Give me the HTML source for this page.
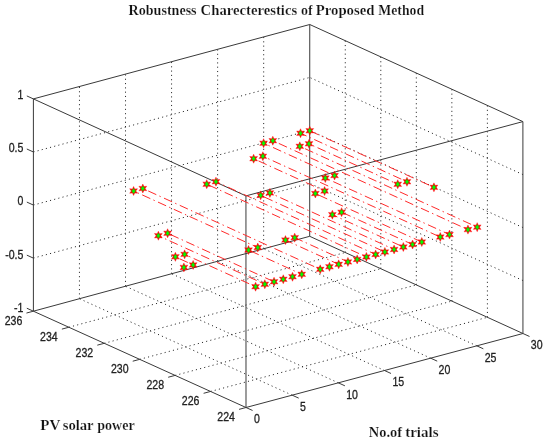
<!DOCTYPE html>
<html><head><meta charset="utf-8"><title>Robustness Charecterestics of Proposed Method</title><style>
html,body{margin:0;padding:0;background:#fff;}
svg{display:block;}
.g{stroke:#2a2a2a;stroke-width:1;stroke-dasharray:1.1 3.2;fill:none;}
.b{stroke:#3a3a3a;stroke-width:1;fill:none;}
.d{stroke:#ff2a2a;stroke-width:1;stroke-dasharray:8.9 3.4 1.4 3.647;fill:none;}
.m{fill:#ff0000;stroke:#ff1010;stroke-width:0.4;}
.mc{fill:#00ff00;stroke:#40a000;stroke-width:0.6;stroke-linejoin:round;}
.t{font-family:"Liberation Sans",Arial,sans-serif;font-size:12px;fill:#222;stroke:#222;stroke-width:0.3;}
.h{font-family:"Liberation Serif","Times New Roman",serif;font-weight:bold;fill:#111;stroke:#fff;stroke-width:0.2;}
</style></head><body>
<svg width="550" height="445" viewBox="0 0 550 445">
<rect width="550" height="445" fill="#fff"/>
<line x1="292.16" y1="395.17" x2="79.45" y2="298.72" class="g"/>
<line x1="338.32" y1="382.83" x2="125.5" y2="286.23" class="g"/>
<line x1="384.48" y1="370.5" x2="171.55" y2="273.75" class="g"/>
<line x1="430.63" y1="358.17" x2="217.6" y2="261.27" class="g"/>
<line x1="476.79" y1="345.83" x2="263.65" y2="248.78" class="g"/>
<line x1="210.57" y1="391.45" x2="487.41" y2="317.3" class="g"/>
<line x1="175.13" y1="375.4" x2="451.87" y2="301.1" class="g"/>
<line x1="139.7" y1="359.35" x2="416.33" y2="284.9" class="g"/>
<line x1="104.27" y1="343.3" x2="380.78" y2="268.7" class="g"/>
<line x1="68.83" y1="327.25" x2="345.24" y2="252.5" class="g"/>
<line x1="79.45" y1="298.72" x2="79.46" y2="86.5" class="g"/>
<line x1="125.5" y1="286.23" x2="125.52" y2="74.1" class="g"/>
<line x1="171.55" y1="273.75" x2="171.58" y2="61.7" class="g"/>
<line x1="217.6" y1="261.27" x2="217.63" y2="49.3" class="g"/>
<line x1="263.65" y1="248.78" x2="263.69" y2="36.9" class="g"/>
<line x1="33.4" y1="258.12" x2="309.71" y2="183.35" class="g"/>
<line x1="33.4" y1="205.05" x2="309.73" y2="130.4" class="g"/>
<line x1="33.4" y1="151.97" x2="309.74" y2="77.45" class="g"/>
<line x1="487.41" y1="317.3" x2="487.38" y2="105.42" class="g"/>
<line x1="451.87" y1="301.1" x2="451.85" y2="89.23" class="g"/>
<line x1="416.33" y1="284.9" x2="416.32" y2="73.05" class="g"/>
<line x1="380.78" y1="268.7" x2="380.8" y2="56.87" class="g"/>
<line x1="345.24" y1="252.5" x2="345.27" y2="40.68" class="g"/>
<line x1="522.94" y1="280.52" x2="309.71" y2="183.35" class="g"/>
<line x1="522.92" y1="227.55" x2="309.73" y2="130.4" class="g"/>
<line x1="522.91" y1="174.57" x2="309.74" y2="77.45" class="g"/>
<line x1="33.4" y1="311.2" x2="33.4" y2="98.9" class="b"/>
<line x1="246" y1="407.5" x2="245.95" y2="195.9" class="b"/>
<line x1="522.95" y1="333.5" x2="522.9" y2="121.6" class="b"/>
<line x1="309.7" y1="236.3" x2="309.75" y2="24.5" class="b"/>
<line x1="33.4" y1="98.9" x2="245.95" y2="195.9" class="b"/>
<line x1="245.95" y1="195.9" x2="522.9" y2="121.6" class="b"/>
<line x1="522.9" y1="121.6" x2="309.75" y2="24.5" class="b"/>
<line x1="309.75" y1="24.5" x2="33.4" y2="98.9" class="b"/>
<line x1="33.4" y1="311.2" x2="246" y2="407.5" class="b"/>
<line x1="246" y1="407.5" x2="522.95" y2="333.5" class="b"/>
<line x1="522.95" y1="333.5" x2="309.7" y2="236.3" class="b"/>
<line x1="309.7" y1="236.3" x2="33.4" y2="311.2" class="b"/>
<line x1="33.4" y1="311.2" x2="26.84" y2="308.23" class="b"/>
<line x1="33.4" y1="258.12" x2="26.84" y2="255.15" class="b"/>
<line x1="33.4" y1="205.05" x2="26.84" y2="202.08" class="b"/>
<line x1="33.4" y1="151.97" x2="26.84" y2="149" class="b"/>
<line x1="33.4" y1="98.9" x2="26.84" y2="95.93" class="b"/>
<line x1="246" y1="407.5" x2="239.04" y2="409.36" class="b"/>
<line x1="210.57" y1="391.45" x2="203.61" y2="393.31" class="b"/>
<line x1="175.13" y1="375.4" x2="168.18" y2="377.26" class="b"/>
<line x1="139.7" y1="359.35" x2="132.74" y2="361.21" class="b"/>
<line x1="104.27" y1="343.3" x2="97.31" y2="345.16" class="b"/>
<line x1="68.83" y1="327.25" x2="61.88" y2="329.11" class="b"/>
<line x1="33.4" y1="311.2" x2="26.44" y2="313.06" class="b"/>
<line x1="246" y1="407.5" x2="252.56" y2="410.47" class="b"/>
<line x1="292.16" y1="395.17" x2="298.72" y2="398.14" class="b"/>
<line x1="338.32" y1="382.83" x2="344.88" y2="385.8" class="b"/>
<line x1="384.48" y1="370.5" x2="391.03" y2="373.47" class="b"/>
<line x1="430.63" y1="358.17" x2="437.19" y2="361.14" class="b"/>
<line x1="476.79" y1="345.83" x2="483.35" y2="348.8" class="b"/>
<line x1="522.95" y1="333.5" x2="529.51" y2="336.47" class="b"/>
<text x="23.4" y="311.6" class="t" text-anchor="end" textLength="9.39" lengthAdjust="spacingAndGlyphs">-1</text>
<text x="23.4" y="258.52" class="t" text-anchor="end" textLength="18.2" lengthAdjust="spacingAndGlyphs">-0.5</text>
<text x="23.4" y="205.45" class="t" text-anchor="end" textLength="5.87" lengthAdjust="spacingAndGlyphs">0</text>
<text x="23.4" y="152.38" class="t" text-anchor="end" textLength="14.68" lengthAdjust="spacingAndGlyphs">0.5</text>
<text x="23.4" y="99.3" class="t" text-anchor="end" textLength="5.87" lengthAdjust="spacingAndGlyphs">1</text>
<text x="226.1" y="421.1" class="t" text-anchor="middle" textLength="17.62" lengthAdjust="spacingAndGlyphs">224</text>
<text x="190.67" y="405.05" class="t" text-anchor="middle" textLength="17.62" lengthAdjust="spacingAndGlyphs">226</text>
<text x="155.23" y="389" class="t" text-anchor="middle" textLength="17.62" lengthAdjust="spacingAndGlyphs">228</text>
<text x="119.8" y="372.95" class="t" text-anchor="middle" textLength="17.62" lengthAdjust="spacingAndGlyphs">230</text>
<text x="84.37" y="356.9" class="t" text-anchor="middle" textLength="17.62" lengthAdjust="spacingAndGlyphs">232</text>
<text x="48.93" y="340.85" class="t" text-anchor="middle" textLength="17.62" lengthAdjust="spacingAndGlyphs">234</text>
<text x="13.5" y="324.8" class="t" text-anchor="middle" textLength="17.62" lengthAdjust="spacingAndGlyphs">236</text>
<text x="253.9" y="423.3" class="t" textLength="5.87" lengthAdjust="spacingAndGlyphs">0</text>
<text x="300.06" y="410.97" class="t" textLength="5.87" lengthAdjust="spacingAndGlyphs">5</text>
<text x="346.22" y="398.63" class="t" textLength="11.75" lengthAdjust="spacingAndGlyphs">10</text>
<text x="392.38" y="386.3" class="t" textLength="11.75" lengthAdjust="spacingAndGlyphs">15</text>
<text x="438.53" y="373.97" class="t" textLength="11.75" lengthAdjust="spacingAndGlyphs">20</text>
<text x="484.69" y="361.63" class="t" textLength="11.75" lengthAdjust="spacingAndGlyphs">25</text>
<text x="530.85" y="349.3" class="t" textLength="11.75" lengthAdjust="spacingAndGlyphs">30</text>
<line x1="175.39" y1="256.85" x2="193.13" y2="264.93" class="d" stroke-dashoffset="12.62"/>
<line x1="184.62" y1="254.37" x2="255.58" y2="286.7" class="d" stroke-dashoffset="7.4"/>
<line x1="158.38" y1="235.72" x2="264.82" y2="284.22" class="d" stroke-dashoffset="5.02"/>
<line x1="167.61" y1="233.24" x2="274.05" y2="281.74" class="d" stroke-dashoffset="14.18"/>
<line x1="248.53" y1="250.04" x2="301.75" y2="274.29" class="d" stroke-dashoffset="15.02"/>
<line x1="133.59" y1="190.98" x2="257.77" y2="247.56" class="d" stroke-dashoffset="7.87"/>
<line x1="142.82" y1="188.5" x2="320.22" y2="269.33" class="d" stroke-dashoffset="11.43"/>
<line x1="285.47" y1="240.11" x2="338.69" y2="264.36" class="d" stroke-dashoffset="1.15"/>
<line x1="294.7" y1="237.63" x2="347.92" y2="261.88" class="d" stroke-dashoffset="0.2"/>
<line x1="206.73" y1="184.17" x2="366.39" y2="256.92" class="d" stroke-dashoffset="15"/>
<line x1="215.96" y1="181.69" x2="375.62" y2="254.44" class="d" stroke-dashoffset="4.28"/>
<line x1="260.68" y1="195.37" x2="384.86" y2="251.95" class="d" stroke-dashoffset="13.22"/>
<line x1="269.91" y1="192.89" x2="394.09" y2="249.47" class="d" stroke-dashoffset="6.01"/>
<line x1="332.37" y1="214.66" x2="403.33" y2="246.99" class="d" stroke-dashoffset="3.42"/>
<line x1="341.6" y1="212.18" x2="412.56" y2="244.51" class="d" stroke-dashoffset="16.37"/>
<line x1="315.35" y1="193.53" x2="421.79" y2="242.03" class="d" stroke-dashoffset="13.24"/>
<line x1="253.63" y1="158.71" x2="324.59" y2="191.05" class="d" stroke-dashoffset="11.95"/>
<line x1="262.86" y1="156.23" x2="440.26" y2="237.06" class="d" stroke-dashoffset="6.45"/>
<line x1="325.32" y1="178" x2="449.5" y2="234.58" class="d" stroke-dashoffset="8.59"/>
<line x1="263.59" y1="143.18" x2="334.55" y2="175.52" class="d" stroke-dashoffset="6.98"/>
<line x1="272.82" y1="140.7" x2="467.96" y2="229.62" class="d" stroke-dashoffset="10.75"/>
<line x1="299.8" y1="146.3" x2="477.2" y2="227.13" class="d" stroke-dashoffset="11.51"/>
<line x1="309.03" y1="143.82" x2="397.73" y2="184.24" class="d" stroke-dashoffset="7.99"/>
<line x1="300.53" y1="133.26" x2="406.97" y2="181.75" class="d" stroke-dashoffset="2.31"/>
<line x1="309.76" y1="130.77" x2="433.94" y2="187.36" class="d" stroke-dashoffset="16.53"/>
<path d="M183.89,262.92 182.74,265.42 180,265.17 181.59,267.42 180,269.67 182.74,269.41 183.89,271.92 185.04,269.41 187.79,269.67 186.19,267.42 187.79,265.17 185.04,265.42Z" class="m"/><path d="M183.89,264.82 l1.9,2.6 l-1.9,2.6 l-1.9,-2.6z" class="mc"/>
<path d="M193.13,260.43 191.98,262.94 189.23,262.68 190.83,264.93 189.23,267.18 191.98,266.93 193.13,269.43 194.28,266.93 197.03,267.18 195.43,264.93 197.03,262.68 194.28,262.94Z" class="m"/><path d="M193.13,262.33 l1.9,2.6 l-1.9,2.6 l-1.9,-2.6z" class="mc"/>
<path d="M175.39,252.35 174.24,254.86 171.49,254.6 173.09,256.85 171.49,259.1 174.24,258.84 175.39,261.35 176.54,258.84 179.29,259.1 177.69,256.85 179.29,254.6 176.54,254.86Z" class="m"/><path d="M175.39,254.25 l1.9,2.6 l-1.9,2.6 l-1.9,-2.6z" class="mc"/>
<path d="M255.58,282.2 254.43,284.71 251.68,284.45 253.28,286.7 251.68,288.95 254.43,288.69 255.58,291.2 256.73,288.69 259.48,288.95 257.88,286.7 259.48,284.45 256.73,284.71Z" class="m"/><path d="M255.58,284.1 l1.9,2.6 l-1.9,2.6 l-1.9,-2.6z" class="mc"/>
<path d="M184.62,249.87 183.47,252.38 180.72,252.12 182.32,254.37 180.72,256.62 183.47,256.36 184.62,258.87 185.77,256.36 188.52,256.62 186.92,254.37 188.52,252.12 185.77,252.38Z" class="m"/><path d="M184.62,251.77 l1.9,2.6 l-1.9,2.6 l-1.9,-2.6z" class="mc"/>
<path d="M264.82,279.72 263.67,282.23 260.92,281.97 262.52,284.22 260.92,286.47 263.67,286.21 264.82,288.72 265.97,286.21 268.71,286.47 267.12,284.22 268.71,281.97 265.97,282.23Z" class="m"/><path d="M264.82,281.62 l1.9,2.6 l-1.9,2.6 l-1.9,-2.6z" class="mc"/>
<path d="M158.38,231.22 157.23,233.73 154.48,233.47 156.08,235.72 154.48,237.97 157.23,237.71 158.38,240.22 159.53,237.71 162.27,237.97 160.68,235.72 162.27,233.47 159.53,233.73Z" class="m"/><path d="M158.38,233.12 l1.9,2.6 l-1.9,2.6 l-1.9,-2.6z" class="mc"/>
<path d="M274.05,277.24 272.9,279.75 270.15,279.49 271.75,281.74 270.15,283.99 272.9,283.73 274.05,286.24 275.2,283.73 277.95,283.99 276.35,281.74 277.95,279.49 275.2,279.75Z" class="m"/><path d="M274.05,279.14 l1.9,2.6 l-1.9,2.6 l-1.9,-2.6z" class="mc"/>
<path d="M167.61,228.74 166.46,231.25 163.71,230.99 165.31,233.24 163.71,235.49 166.46,235.23 167.61,237.74 168.76,235.23 171.51,235.49 169.91,233.24 171.51,230.99 168.76,231.25Z" class="m"/><path d="M167.61,230.64 l1.9,2.6 l-1.9,2.6 l-1.9,-2.6z" class="mc"/>
<path d="M283.28,274.75 282.13,277.26 279.39,277 280.98,279.25 279.39,281.5 282.13,281.25 283.28,283.75 284.43,281.25 287.18,281.5 285.58,279.25 287.18,277 284.43,277.26Z" class="m"/><path d="M283.28,276.65 l1.9,2.6 l-1.9,2.6 l-1.9,-2.6z" class="mc"/>
<path d="M292.52,272.27 291.37,274.78 288.62,274.52 290.22,276.77 288.62,279.02 291.37,278.76 292.52,281.27 293.67,278.76 296.42,279.02 294.82,276.77 296.42,274.52 293.67,274.78Z" class="m"/><path d="M292.52,274.17 l1.9,2.6 l-1.9,2.6 l-1.9,-2.6z" class="mc"/>
<path d="M301.75,269.79 300.6,272.3 297.85,272.04 299.45,274.29 297.85,276.54 300.6,276.28 301.75,278.79 302.9,276.28 305.65,276.54 304.05,274.29 305.65,272.04 302.9,272.3Z" class="m"/><path d="M301.75,271.69 l1.9,2.6 l-1.9,2.6 l-1.9,-2.6z" class="mc"/>
<path d="M248.53,245.54 247.38,248.05 244.63,247.79 246.23,250.04 244.63,252.29 247.38,252.03 248.53,254.54 249.68,252.03 252.43,252.29 250.83,250.04 252.43,247.79 249.68,248.05Z" class="m"/><path d="M248.53,247.44 l1.9,2.6 l-1.9,2.6 l-1.9,-2.6z" class="mc"/>
<path d="M257.77,243.06 256.62,245.57 253.87,245.31 255.47,247.56 253.87,249.81 256.62,249.55 257.77,252.06 258.92,249.55 261.66,249.81 260.07,247.56 261.66,245.31 258.92,245.57Z" class="m"/><path d="M257.77,244.96 l1.9,2.6 l-1.9,2.6 l-1.9,-2.6z" class="mc"/>
<path d="M133.59,186.48 132.44,188.99 129.69,188.73 131.29,190.98 129.69,193.23 132.44,192.97 133.59,195.48 134.74,192.97 137.48,193.23 135.89,190.98 137.48,188.73 134.74,188.99Z" class="m"/><path d="M133.59,188.38 l1.9,2.6 l-1.9,2.6 l-1.9,-2.6z" class="mc"/>
<path d="M320.22,264.83 319.07,267.34 316.32,267.08 317.92,269.33 316.32,271.58 319.07,271.32 320.22,273.83 321.37,271.32 324.12,271.58 322.52,269.33 324.12,267.08 321.37,267.34Z" class="m"/><path d="M320.22,266.73 l1.9,2.6 l-1.9,2.6 l-1.9,-2.6z" class="mc"/>
<path d="M142.82,184 141.67,186.51 138.92,186.25 140.52,188.5 138.92,190.75 141.67,190.49 142.82,193 143.97,190.49 146.72,190.75 145.12,188.5 146.72,186.25 143.97,186.51Z" class="m"/><path d="M142.82,185.9 l1.9,2.6 l-1.9,2.6 l-1.9,-2.6z" class="mc"/>
<path d="M329.45,262.34 328.3,264.85 325.56,264.59 327.15,266.84 325.56,269.09 328.3,268.84 329.45,271.34 330.6,268.84 333.35,269.09 331.75,266.84 333.35,264.59 330.6,264.85Z" class="m"/><path d="M329.45,264.24 l1.9,2.6 l-1.9,2.6 l-1.9,-2.6z" class="mc"/>
<path d="M338.69,259.86 337.54,262.37 334.79,262.11 336.39,264.36 334.79,266.61 337.54,266.35 338.69,268.86 339.84,266.35 342.59,266.61 340.99,264.36 342.59,262.11 339.84,262.37Z" class="m"/><path d="M338.69,261.76 l1.9,2.6 l-1.9,2.6 l-1.9,-2.6z" class="mc"/>
<path d="M285.47,235.61 284.32,238.12 281.57,237.86 283.17,240.11 281.57,242.36 284.32,242.11 285.47,244.61 286.62,242.11 289.37,242.36 287.77,240.11 289.37,237.86 286.62,238.12Z" class="m"/><path d="M285.47,237.51 l1.9,2.6 l-1.9,2.6 l-1.9,-2.6z" class="mc"/>
<path d="M347.92,257.38 346.77,259.89 344.02,259.63 345.62,261.88 344.02,264.13 346.77,263.87 347.92,266.38 349.07,263.87 351.82,264.13 350.22,261.88 351.82,259.63 349.07,259.89Z" class="m"/><path d="M347.92,259.28 l1.9,2.6 l-1.9,2.6 l-1.9,-2.6z" class="mc"/>
<path d="M294.7,233.13 293.55,235.64 290.8,235.38 292.4,237.63 290.8,239.88 293.55,239.62 294.7,242.13 295.85,239.62 298.6,239.88 297,237.63 298.6,235.38 295.85,235.64Z" class="m"/><path d="M294.7,235.03 l1.9,2.6 l-1.9,2.6 l-1.9,-2.6z" class="mc"/>
<path d="M357.16,254.9 356.01,257.41 353.26,257.15 354.86,259.4 353.26,261.65 356.01,261.39 357.16,263.9 358.31,261.39 361.05,261.65 359.46,259.4 361.05,257.15 358.31,257.41Z" class="m"/><path d="M357.16,256.8 l1.9,2.6 l-1.9,2.6 l-1.9,-2.6z" class="mc"/>
<path d="M366.39,252.42 365.24,254.93 362.49,254.67 364.09,256.92 362.49,259.17 365.24,258.91 366.39,261.42 367.54,258.91 370.29,259.17 368.69,256.92 370.29,254.67 367.54,254.93Z" class="m"/><path d="M366.39,254.32 l1.9,2.6 l-1.9,2.6 l-1.9,-2.6z" class="mc"/>
<path d="M206.73,179.67 205.58,182.18 202.83,181.92 204.43,184.17 202.83,186.42 205.58,186.16 206.73,188.67 207.88,186.16 210.63,186.42 209.03,184.17 210.63,181.92 207.88,182.18Z" class="m"/><path d="M206.73,181.57 l1.9,2.6 l-1.9,2.6 l-1.9,-2.6z" class="mc"/>
<path d="M375.62,249.94 374.47,252.44 371.73,252.19 373.32,254.44 371.73,256.69 374.47,256.43 375.62,258.94 376.77,256.43 379.52,256.69 377.92,254.44 379.52,252.19 376.77,252.44Z" class="m"/><path d="M375.62,251.84 l1.9,2.6 l-1.9,2.6 l-1.9,-2.6z" class="mc"/>
<path d="M215.96,177.19 214.81,179.7 212.07,179.44 213.66,181.69 212.07,183.94 214.81,183.68 215.96,186.19 217.11,183.68 219.86,183.94 218.26,181.69 219.86,179.44 217.11,179.7Z" class="m"/><path d="M215.96,179.09 l1.9,2.6 l-1.9,2.6 l-1.9,-2.6z" class="mc"/>
<path d="M384.86,247.45 383.71,249.96 380.96,249.7 382.56,251.95 380.96,254.2 383.71,253.94 384.86,256.45 386.01,253.94 388.76,254.2 387.16,251.95 388.76,249.7 386.01,249.96Z" class="m"/><path d="M384.86,249.35 l1.9,2.6 l-1.9,2.6 l-1.9,-2.6z" class="mc"/>
<path d="M260.68,190.87 259.53,193.38 256.78,193.12 258.38,195.37 256.78,197.62 259.53,197.36 260.68,199.87 261.83,197.36 264.58,197.62 262.98,195.37 264.58,193.12 261.83,193.38Z" class="m"/><path d="M260.68,192.77 l1.9,2.6 l-1.9,2.6 l-1.9,-2.6z" class="mc"/>
<path d="M394.09,244.97 392.94,247.48 390.19,247.22 391.79,249.47 390.19,251.72 392.94,251.46 394.09,253.97 395.24,251.46 397.99,251.72 396.39,249.47 397.99,247.22 395.24,247.48Z" class="m"/><path d="M394.09,246.87 l1.9,2.6 l-1.9,2.6 l-1.9,-2.6z" class="mc"/>
<path d="M269.91,188.39 268.76,190.9 266.01,190.64 267.61,192.89 266.01,195.14 268.76,194.88 269.91,197.39 271.06,194.88 273.81,195.14 272.21,192.89 273.81,190.64 271.06,190.9Z" class="m"/><path d="M269.91,190.29 l1.9,2.6 l-1.9,2.6 l-1.9,-2.6z" class="mc"/>
<path d="M403.33,242.49 402.18,245 399.43,244.74 401.03,246.99 399.43,249.24 402.18,248.98 403.33,251.49 404.48,248.98 407.22,249.24 405.63,246.99 407.22,244.74 404.48,245Z" class="m"/><path d="M403.33,244.39 l1.9,2.6 l-1.9,2.6 l-1.9,-2.6z" class="mc"/>
<path d="M332.37,210.16 331.22,212.67 328.47,212.41 330.07,214.66 328.47,216.91 331.22,216.65 332.37,219.16 333.52,216.65 336.26,216.91 334.67,214.66 336.26,212.41 333.52,212.67Z" class="m"/><path d="M332.37,212.06 l1.9,2.6 l-1.9,2.6 l-1.9,-2.6z" class="mc"/>
<path d="M412.56,240.01 411.41,242.52 408.66,242.26 410.26,244.51 408.66,246.76 411.41,246.5 412.56,249.01 413.71,246.5 416.46,246.76 414.86,244.51 416.46,242.26 413.71,242.52Z" class="m"/><path d="M412.56,241.91 l1.9,2.6 l-1.9,2.6 l-1.9,-2.6z" class="mc"/>
<path d="M341.6,207.68 340.45,210.18 337.7,209.93 339.3,212.18 337.7,214.43 340.45,214.17 341.6,216.68 342.75,214.17 345.5,214.43 343.9,212.18 345.5,209.93 342.75,210.18Z" class="m"/><path d="M341.6,209.58 l1.9,2.6 l-1.9,2.6 l-1.9,-2.6z" class="mc"/>
<path d="M421.79,237.53 420.64,240.03 417.9,239.78 419.49,242.03 417.9,244.28 420.64,244.02 421.79,246.53 422.94,244.02 425.69,244.28 424.09,242.03 425.69,239.78 422.94,240.03Z" class="m"/><path d="M421.79,239.43 l1.9,2.6 l-1.9,2.6 l-1.9,-2.6z" class="mc"/>
<path d="M315.35,189.03 314.2,191.54 311.46,191.28 313.05,193.53 311.46,195.78 314.2,195.52 315.35,198.03 316.5,195.52 319.25,195.78 317.65,193.53 319.25,191.28 316.5,191.54Z" class="m"/><path d="M315.35,190.93 l1.9,2.6 l-1.9,2.6 l-1.9,-2.6z" class="mc"/>
<path d="M324.59,186.55 323.44,189.05 320.69,188.8 322.29,191.05 320.69,193.3 323.44,193.04 324.59,195.55 325.74,193.04 328.49,193.3 326.89,191.05 328.49,188.8 325.74,189.05Z" class="m"/><path d="M324.59,188.45 l1.9,2.6 l-1.9,2.6 l-1.9,-2.6z" class="mc"/>
<path d="M253.63,154.21 252.48,156.72 249.73,156.46 251.33,158.71 249.73,160.96 252.48,160.7 253.63,163.21 254.78,160.7 257.53,160.96 255.93,158.71 257.53,156.46 254.78,156.72Z" class="m"/><path d="M253.63,156.11 l1.9,2.6 l-1.9,2.6 l-1.9,-2.6z" class="mc"/>
<path d="M440.26,232.56 439.11,235.07 436.36,234.81 437.96,237.06 436.36,239.31 439.11,239.05 440.26,241.56 441.41,239.05 444.16,239.31 442.56,237.06 444.16,234.81 441.41,235.07Z" class="m"/><path d="M440.26,234.46 l1.9,2.6 l-1.9,2.6 l-1.9,-2.6z" class="mc"/>
<path d="M262.86,151.73 261.71,154.24 258.96,153.98 260.56,156.23 258.96,158.48 261.71,158.22 262.86,160.73 264.01,158.22 266.76,158.48 265.16,156.23 266.76,153.98 264.01,154.24Z" class="m"/><path d="M262.86,153.63 l1.9,2.6 l-1.9,2.6 l-1.9,-2.6z" class="mc"/>
<path d="M449.5,230.08 448.35,232.59 445.6,232.33 447.2,234.58 445.6,236.83 448.35,236.57 449.5,239.08 450.65,236.57 453.39,236.83 451.8,234.58 453.39,232.33 450.65,232.59Z" class="m"/><path d="M449.5,231.98 l1.9,2.6 l-1.9,2.6 l-1.9,-2.6z" class="mc"/>
<path d="M325.32,173.5 324.17,176.01 321.42,175.75 323.02,178 321.42,180.25 324.17,179.99 325.32,182.5 326.47,179.99 329.21,180.25 327.62,178 329.21,175.75 326.47,176.01Z" class="m"/><path d="M325.32,175.4 l1.9,2.6 l-1.9,2.6 l-1.9,-2.6z" class="mc"/>
<path d="M334.55,171.02 333.4,173.52 330.65,173.27 332.25,175.52 330.65,177.77 333.4,177.51 334.55,180.02 335.7,177.51 338.45,177.77 336.85,175.52 338.45,173.27 335.7,173.52Z" class="m"/><path d="M334.55,172.92 l1.9,2.6 l-1.9,2.6 l-1.9,-2.6z" class="mc"/>
<path d="M263.59,138.68 262.44,141.19 259.69,140.93 261.29,143.18 259.69,145.43 262.44,145.18 263.59,147.68 264.74,145.18 267.49,145.43 265.89,143.18 267.49,140.93 264.74,141.19Z" class="m"/><path d="M263.59,140.58 l1.9,2.6 l-1.9,2.6 l-1.9,-2.6z" class="mc"/>
<path d="M467.96,225.12 466.81,227.62 464.07,227.37 465.66,229.62 464.07,231.87 466.81,231.61 467.96,234.12 469.11,231.61 471.86,231.87 470.26,229.62 471.86,227.37 469.11,227.62Z" class="m"/><path d="M467.96,227.02 l1.9,2.6 l-1.9,2.6 l-1.9,-2.6z" class="mc"/>
<path d="M272.82,136.2 271.67,138.71 268.93,138.45 270.52,140.7 268.93,142.95 271.67,142.69 272.82,145.2 273.97,142.69 276.72,142.95 275.12,140.7 276.72,138.45 273.97,138.71Z" class="m"/><path d="M272.82,138.1 l1.9,2.6 l-1.9,2.6 l-1.9,-2.6z" class="mc"/>
<path d="M477.2,222.63 476.05,225.14 473.3,224.88 474.9,227.13 473.3,229.38 476.05,229.12 477.2,231.63 478.35,229.12 481.1,229.38 479.5,227.13 481.1,224.88 478.35,225.14Z" class="m"/><path d="M477.2,224.53 l1.9,2.6 l-1.9,2.6 l-1.9,-2.6z" class="mc"/>
<path d="M299.8,141.8 298.65,144.31 295.9,144.05 297.5,146.3 295.9,148.55 298.65,148.29 299.8,150.8 300.95,148.29 303.7,148.55 302.1,146.3 303.7,144.05 300.95,144.31Z" class="m"/><path d="M299.8,143.7 l1.9,2.6 l-1.9,2.6 l-1.9,-2.6z" class="mc"/>
<path d="M397.73,179.74 396.58,182.24 393.83,181.99 395.43,184.24 393.83,186.49 396.58,186.23 397.73,188.74 398.88,186.23 401.63,186.49 400.03,184.24 401.63,181.99 398.88,182.24Z" class="m"/><path d="M397.73,181.64 l1.9,2.6 l-1.9,2.6 l-1.9,-2.6z" class="mc"/>
<path d="M309.03,139.32 307.88,141.83 305.13,141.57 306.73,143.82 305.13,146.07 307.88,145.81 309.03,148.32 310.18,145.81 312.93,146.07 311.33,143.82 312.93,141.57 310.18,141.83Z" class="m"/><path d="M309.03,141.22 l1.9,2.6 l-1.9,2.6 l-1.9,-2.6z" class="mc"/>
<path d="M406.97,177.25 405.82,179.76 403.07,179.5 404.67,181.75 403.07,184 405.82,183.75 406.97,186.25 408.12,183.75 410.86,184 409.27,181.75 410.86,179.5 408.12,179.76Z" class="m"/><path d="M406.97,179.15 l1.9,2.6 l-1.9,2.6 l-1.9,-2.6z" class="mc"/>
<path d="M300.53,128.76 299.38,131.26 296.63,131.01 298.23,133.26 296.63,135.51 299.38,135.25 300.53,137.76 301.68,135.25 304.42,135.51 302.83,133.26 304.42,131.01 301.68,131.26Z" class="m"/><path d="M300.53,130.66 l1.9,2.6 l-1.9,2.6 l-1.9,-2.6z" class="mc"/>
<path d="M433.94,182.86 432.79,185.36 430.04,185.11 431.64,187.36 430.04,189.61 432.79,189.35 433.94,191.86 435.09,189.35 437.84,189.61 436.24,187.36 437.84,185.11 435.09,185.36Z" class="m"/><path d="M433.94,184.76 l1.9,2.6 l-1.9,2.6 l-1.9,-2.6z" class="mc"/>
<path d="M309.76,126.27 308.61,128.78 305.86,128.52 307.46,130.77 305.86,133.02 308.61,132.77 309.76,135.27 310.91,132.77 313.66,133.02 312.06,130.77 313.66,128.52 310.91,128.78Z" class="m"/><path d="M309.76,128.17 l1.9,2.6 l-1.9,2.6 l-1.9,-2.6z" class="mc"/>
<text class="h" font-size="14.2" y="15"><tspan x="128.6" textLength="68" lengthAdjust="spacingAndGlyphs">Robustness</tspan> <tspan x="200.6" textLength="96.6" lengthAdjust="spacingAndGlyphs">Charecterestics</tspan> <tspan x="301" textLength="11.6" lengthAdjust="spacingAndGlyphs">of</tspan> <tspan x="315.7" textLength="58.8" lengthAdjust="spacingAndGlyphs">Proposed</tspan> <tspan x="378.3" textLength="45.8" lengthAdjust="spacingAndGlyphs">Method</tspan></text>
<text class="h" font-size="13.8" y="430.4"><tspan x="40.2" textLength="19.8" lengthAdjust="spacingAndGlyphs">PV</tspan> <tspan x="62.7" textLength="30.6" lengthAdjust="spacingAndGlyphs">solar</tspan> <tspan x="97.3" textLength="37.4" lengthAdjust="spacingAndGlyphs">power</tspan></text>
<text class="h" font-size="14" y="436.5"><tspan x="368.8" textLength="33.4" lengthAdjust="spacingAndGlyphs">No.of</tspan> <tspan x="405.2" textLength="33.3" lengthAdjust="spacingAndGlyphs">trials</tspan></text>
</svg>
</body></html>
